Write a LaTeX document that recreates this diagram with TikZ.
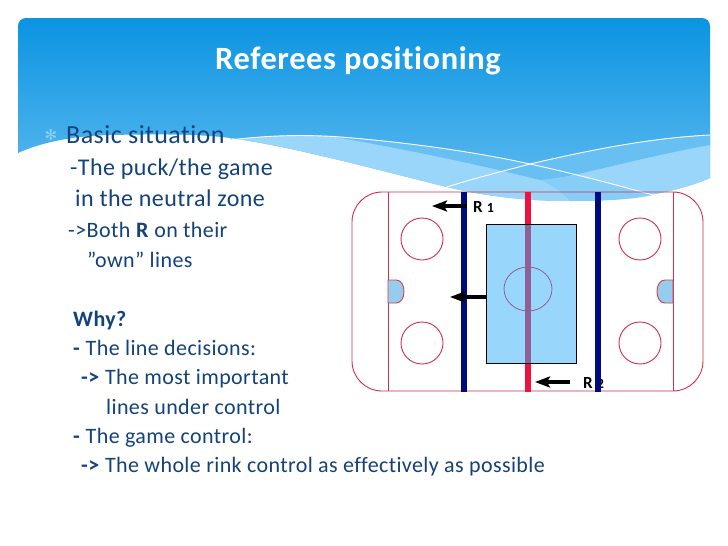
\documentclass[tikz,border=0pt]{standalone}
\usepackage{fontspec}
\usetikzlibrary{arrows.meta}
\setmainfont{Carlito}[LetterSpace=1.8,Ligatures=NoCommon]
\newfontfamily\symfont{DejaVu Sans}
\definecolor{txt}{HTML}{14427A}
\definecolor{rinkred}{HTML}{CF2F52}
\definecolor{navyline}{HTML}{000A80}
\definecolor{pure}{HTML}{EE1240}
\definecolor{icebox}{HTML}{99D6FB}
\definecolor{lightband}{HTML}{9AD6F9}
\definecolor{midband}{HTML}{68BFF2}
\definecolor{lowband}{HTML}{86CEF7}
\definecolor{mixline}{HTML}{8F5F96}
\definecolor{panelA}{HTML}{0B94E1}
\definecolor{panelB}{HTML}{62BCF1}
\tikzset{
  txtline/.style={anchor=base west,inner sep=0pt,text=txt,font=\fontsize{#1}{#1}\selectfont},
  rinkline/.style={draw=rinkred,line width=0.9pt},
  thickline/.style={line width=6pt},
  refarrow/.style={-{Stealth[length=15pt,width=11pt,inset=3pt]},line width=3.4pt,black},
  reflabel/.style={anchor=base west,inner sep=0pt,text=black,font=\bfseries\fontsize{17}{17}\selectfont}
}
\begin{document}
\begin{tikzpicture}[x=1pt,y=-1pt]
\useasboundingbox (0,0) rectangle (728,546);
\fill[white] (0,0) rectangle (728,546);
% panel
\path[top color=panelA,bottom color=panelB]
  (18,153) .. controls (40,143) and (70,136) .. (110,135)
  .. controls (160,134) and (200,134) .. (230,138)
  .. controls (290,146) and (370,168) .. (447,187)
  .. controls (480,195) and (520,201) .. (570,201)
  .. controls (620,201) and (670,195) .. (710,178)
  [rounded corners=8pt] -- (710,18) -- (18,18) [sharp corners] -- cycle;
% light bands
\fill[lightband]
  (230,140) .. controls (270,135) and (310,134) .. (353,138)
  .. controls (420,144) and (480,153) .. (530,164)
  .. controls (590,150) and (650,138) .. (710,135) -- (710,178)
  .. controls (670,195) and (620,201) .. (570,201)
  .. controls (520,201) and (480,195) .. (447,187)
  .. controls (370,168) and (290,146) .. (230,138) -- cycle;
\fill[midband]
  (335,137) .. controls (340,137) and (348,137) .. (353,138)
  .. controls (420,144) and (480,153) .. (530,164)
  .. controls (590,150) and (650,138) .. (710,135) -- (710,145)
  .. controls (670,152) and (625,163) .. (587,172)
  .. controls (570,176) and (555,179) .. (540,180)
  .. controls (480,165) and (410,150) .. (335,137) -- cycle;
\fill[lowband]
  (540,180) .. controls (552,179) and (563,177) .. (575,175)
  .. controls (600,182) and (630,189) .. (653,195)
  .. controls (630,200) and (600,201) .. (570,201)
  .. controls (560,190) and (550,184) .. (540,180) -- cycle;
\draw[white,line width=0.9pt] (230,140) .. controls (270,135) and (310,134) .. (353,138) .. controls (420,144) and (480,153) .. (530,164) .. controls (580,175) and (620,186) .. (653,195);
\draw[white,line width=0.9pt] (447,187) .. controls (475,178) and (500,172) .. (530,164) .. controls (590,150) and (650,138) .. (710,135);
% title
\node[anchor=base,inner sep=0pt,text=white,font=\bfseries\fontsize{32.5}{32.5}\selectfont] (title) at (358,69) {Referees positioning};
% bullet
\node[anchor=center,inner sep=0pt,text=panelB!70!white,font=\symfont\fontsize{15}{15}\selectfont] (bullet) at (51,135) {✻};
% body text
\node[txtline=26] (t1) at (66,143) {Basic situation};
\node[txtline=24] (t2) at (70,175) {-The puck/the game};
\node[txtline=24] (t3) at (75,206) {in the neutral zone};
\node[txtline=22] (t4) at (68,237) {->Both \textbf{R} on their};
\node[txtline=22] (t5) at (87,267) {”own” lines};
\node[txtline=22] (t6) at (73,326) {\textbf{Why?}};
\node[txtline=22] (t7) at (73,355) {\textbf{-} The line decisions:};
\node[txtline=22] (t8) at (81,384) {\textbf{->} The most important};
\node[txtline=22] (t9) at (106,414) {lines under control};
\node[txtline=22] (t10) at (73,443) {\textbf{-} The game control:};
\node[txtline=22] (t11) at (81,472) {\textbf{->} The whole rink control as effectively as possible};
% rink
\node[reflabel] (r2) at (583,388) {R {\fontsize{14}{14}\selectfont 2}};
\draw[rinkline,rounded corners=30pt] (352,192) rectangle (703,391);
\draw[rinkline] (388,192) -- (388,391);
\draw[rinkline] (673,192) -- (673,391);
\foreach \cx/\cy in {422/239,422/343,640/239,640/343}
  \draw[rinkline] (\cx,\cy) circle[radius=21];
\draw[rinkline,draw=rinkred!80!orange,fill=icebox!90!gray] (388,280) -- (396,280) .. controls (401,280) and (404,285) .. (404,291.5) .. controls (404,298) and (401,303) .. (396,303) -- (388,303) -- cycle;
\draw[rinkline,draw=rinkred!80!orange,fill=icebox!90!gray] (673,280) -- (665,280) .. controls (660,280) and (657,285) .. (657,291.5) .. controls (657,298) and (660,303) .. (665,303) -- (673,303) -- cycle;
\draw[navyline,thickline] (464,192) -- (464,391.5);
\draw[navyline,thickline] (598,191.5) -- (598,391.5);
\draw[pure,thickline] (528,191.5) -- (528,391.5);
\draw[black,fill=icebox,line width=0.9pt] (486,224) rectangle (576,363);
\draw[mixline,line width=0.8pt] (528,289) ellipse[x radius=24,y radius=22];
\draw[mixline,thickline] (528,224.5) -- (528,362.5);
\node[reflabel] (r1) at (473,212.5) {R {\fontsize{14}{14}\selectfont 1}};
\draw[refarrow] (467,206) -- (432,206);
\draw[refarrow] (486,297) -- (450,297);
\draw[refarrow] (570,382) -- (535,382);
\end{tikzpicture}
\end{document}
